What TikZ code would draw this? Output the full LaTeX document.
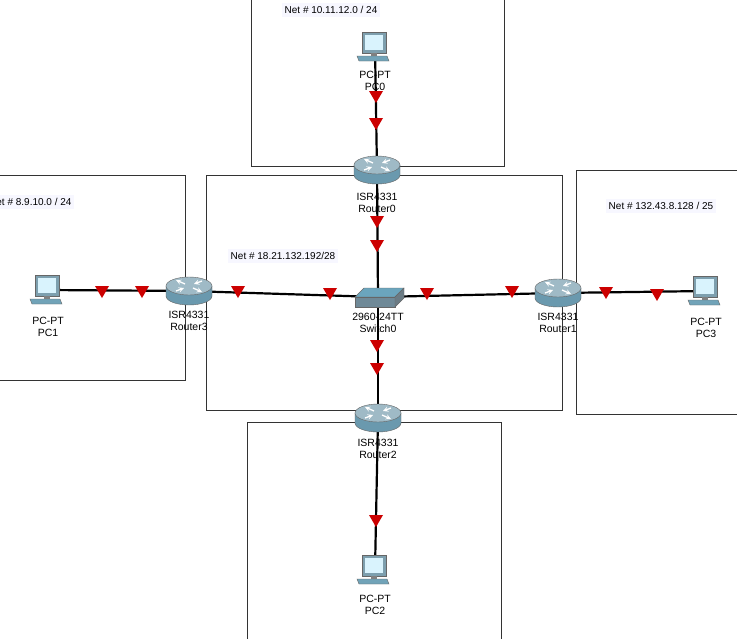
\documentclass[tikz,border=0pt]{standalone}
\usepackage{fontspec}
\setmainfont{Liberation Sans}
\begin{document}
\begin{tikzpicture}[x=1pt,y=-1pt,
  area/.style={draw=black!80,line width=0.8pt},
  link/.style={line width=2.2pt,black},
  lbl/.style={font=\fontsize{10.5}{12}\selectfont,align=center,inner sep=0pt},
  net/.style={font=\fontsize{10}{11}\selectfont,fill=blue!3,inner sep=3pt},
  tri/.style={fill=red!80!black,draw=none}]
\useasboundingbox (0,0) rectangle (737,638);
\fill[white] (0,0) rectangle (737,638);
% areas
\draw[area] (251,-2) rectangle (504,166);
\draw[area] (-2,175) rectangle (185,380);
\draw[area] (206,175) rectangle (562,410);
\draw[area] (576,170) rectangle (740,414);
\draw[area] (247,422) rectangle (501,640);
% device anchors
\coordinate (PC0) at (375,47);
\coordinate (R0) at (377,170);
\coordinate (SW) at (378,297);
\coordinate (R1) at (558,293);
\coordinate (PC3) at (706,291);
\coordinate (R3) at (189,291);
\coordinate (PC1) at (48,290);
\coordinate (R2) at (378,418);
\coordinate (PC2) at (375,570);
% links
\draw[link] (PC0) -- (R0);
\draw[link] (R0) -- (SW);
\draw[link] (SW) -- (R3);
\draw[link] (SW) -- (R1);
\draw[link] (R1) -- (PC3);
\draw[link] (PC1) -- (R3);
\draw[link] (SW) -- (R2);
\draw[link] (R2) -- (PC2);
% triangles
\foreach \x/\y in {376/97,376/124,377/222,377/246,238/292,330/294,427/294,512/292,606/293,657/295,102/292,142/292,377/346,377/369,376/521}
  \fill[tri] (\x-7,\y-6) -- (\x+7,\y-6) -- (\x,\y+6) -- cycle;
% routers
\foreach \c in {R0,R1,R2,R3}{
  \begin{scope}[shift={(\c)}]
   \fill[cyan!45!gray!90!black] (-23,-5) -- (-23,5) arc[start angle=180,end angle=0,x radius=23,y radius=9] -- (23,-5) -- cycle;
   \draw[black!60,line width=0.4pt] (-23,-5) -- (-23,5) arc[start angle=180,end angle=0,x radius=23,y radius=9] -- (23,-5);
   \fill[cyan!30!gray!70!white,draw=black!60,line width=0.4pt] (0,-5) ellipse[x radius=23,y radius=9];
   \draw[white,line width=1.3pt,->,>=stealth] (-4,-7) -- (-13,-11);
   \draw[white,line width=1.3pt,->,>=stealth] (4,-3) -- (13,1);
   \draw[white,line width=1.3pt,->,>=stealth] (-13,0) -- (-5,-3);
   \draw[white,line width=1.3pt,->,>=stealth] (13,-10) -- (5,-7);
  \end{scope}}
% switch
\begin{scope}[shift={(SW)}]
  \fill[cyan!45!gray,draw=black!60,line width=0.4pt] (-23,0) -- (-14,-9) -- (26,-9) -- (17,0) -- cycle;
  \fill[cyan!35!gray!80!black,draw=black!60,line width=0.4pt] (-23,0) rectangle (17,10);
  \fill[cyan!30!gray!70!black,draw=black!60,line width=0.4pt] (17,0) -- (26,-9) -- (26,1) -- (17,10) -- cycle;
\end{scope}
% PCs
\foreach \c in {PC0,PC1,PC2,PC3}{
  \begin{scope}[shift={(\c)}]
   \fill[gray!70!cyan,draw=black!60,line width=0.4pt] (-13,-15) rectangle (11,6);
   \fill[cyan!15!white] (-10,-12) rectangle (8,3);
   \fill[gray!60!cyan,draw=black!60,line width=0.4pt] (-18,9) -- (12,9) -- (14,14) -- (-16,14) -- cycle;
   \fill[gray] (-4,6) rectangle (2,9);
  \end{scope}}
% labels
\node[lbl] (lPC0) at (375,81) {PC-PT\\PC0};
\node[lbl] (lR0) at (377,203) {ISR4331\\Router0};
\node[lbl] (lSW) at (378,323) {2960-24TT\\Switch0};
\node[lbl] (lR1) at (558,323) {ISR4331\\Router1};
\node[lbl] (lPC3) at (706,328) {PC-PT\\PC3};
\node[lbl] (lR3) at (189,321) {ISR4331\\Router3};
\node[lbl] (lPC1) at (48,327) {PC-PT\\PC1};
\node[lbl] (lR2) at (378,449) {ISR4331\\Router2};
\node[lbl] (lPC2) at (375,605) {PC-PT\\PC2};
% nets
\node[net] (n0) at (331,10) {Net \# 10.11.12.0 / 24};
\node[net,anchor=west] (n3) at (-14,202) {Net \# 8.9.10.0 / 24};
\node[net] (nc) at (283,256) {Net \# 18.21.132.192/28};
\node[net] (n1) at (661,206) {Net \# 132.43.8.128 / 25};
\end{tikzpicture}
\end{document}
